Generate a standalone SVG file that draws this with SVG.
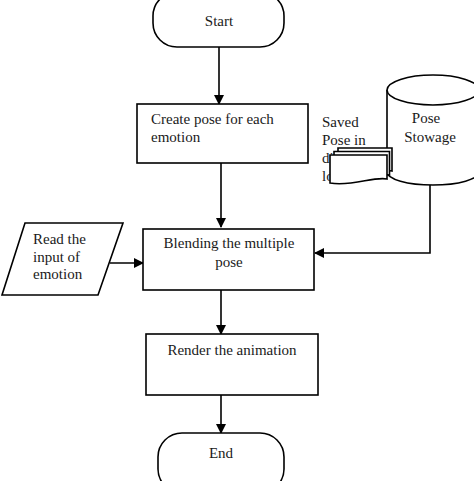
<svg xmlns="http://www.w3.org/2000/svg" width="474" height="481" viewBox="0 0 474 481">
<style>
.s{fill:#fff;stroke:#000;stroke-width:1.6}
.t{font-family:"Liberation Serif","Times New Roman",serif;font-size:15px;fill:#1a1a1a}
.c{stroke:#000;stroke-width:1.6;fill:none}
</style>
<defs>
<marker id="ah" markerWidth="10" markerHeight="10" refX="9" refY="5" orient="auto" markerUnits="userSpaceOnUse">
<path d="M0,0 L10,5 L0,10 Z" fill="#000"/>
</marker>
</defs>
<rect width="474" height="481" fill="#fff"/>
<g id="connectors">
<line class="c" x1="219" y1="47" x2="219" y2="104" marker-end="url(#ah)"/>
<line class="c" x1="221" y1="163" x2="221" y2="227" marker-end="url(#ah)"/>
<line class="c" x1="110" y1="263" x2="143" y2="263" marker-end="url(#ah)"/>
<polyline class="c" points="430,185 430,253 315,253" marker-end="url(#ah)"/>
<line class="c" x1="221" y1="290" x2="221" y2="334" marker-end="url(#ah)"/>
<line class="c" x1="221" y1="395" x2="221" y2="433" marker-end="url(#ah)"/>
</g>
<g id="start">
<rect class="s" x="153" y="-8" width="131" height="55" rx="24"/>
<text class="t" x="219" y="26" text-anchor="middle">Start</text>
</g>
<g id="create">
<rect class="s" x="137" y="104" width="171" height="59"/>
<text class="t" x="151" y="124">Create pose for each</text>
<text class="t" x="151" y="142">emotion</text>
</g>
<g id="storage">
<path class="s" d="M387,90 L387,172 A46,13 0 0 0 479,172 L479,90"/>
<ellipse class="s" cx="433" cy="90" rx="46" ry="15"/>
<text class="t" x="426" y="123" text-anchor="middle">Pose</text>
<text class="t" x="430" y="142" text-anchor="middle">Stowage</text>
</g>
<g id="saved">
<text class="t" x="322" y="127">Saved</text>
<text class="t" x="322" y="145">Pose in</text>
<text class="t" x="322" y="163">di</text>
<text class="t" x="322" y="181">lo</text>
<path class="s" stroke-width="1.3" d="M338,148 L392,148 L392,171 C380,168 360,178 338,175 Z"/>
<path class="s" stroke-width="1.3" d="M334,151.5 L389.5,151.5 L389.5,175 C377,172 357,182 334,179 Z"/>
<path class="s" stroke-width="1.3" d="M330,155 L387,155 L387,179 C374,176 352,187 330,183 Z"/>
</g>
<g id="read">
<polygon class="s" points="25,223 123,223 98,295 2,295"/>
<text class="t" x="33" y="244">Read the</text>
<text class="t" x="33" y="262">input of</text>
<text class="t" x="33" y="279">emotion</text>
</g>
<g id="blend">
<rect class="s" x="143" y="229" width="171" height="61"/>
<text class="t" x="229" y="248" text-anchor="middle">Blending the multiple</text>
<text class="t" x="229" y="267" text-anchor="middle">pose</text>
</g>
<g id="render">
<rect class="s" x="146" y="334" width="172" height="61"/>
<text class="t" x="232" y="355" text-anchor="middle">Render the animation</text>
</g>
<g id="end">
<rect class="s" x="158" y="433" width="126" height="60" rx="24"/>
<text class="t" x="221" y="458" text-anchor="middle">End</text>
</g>
</svg>
